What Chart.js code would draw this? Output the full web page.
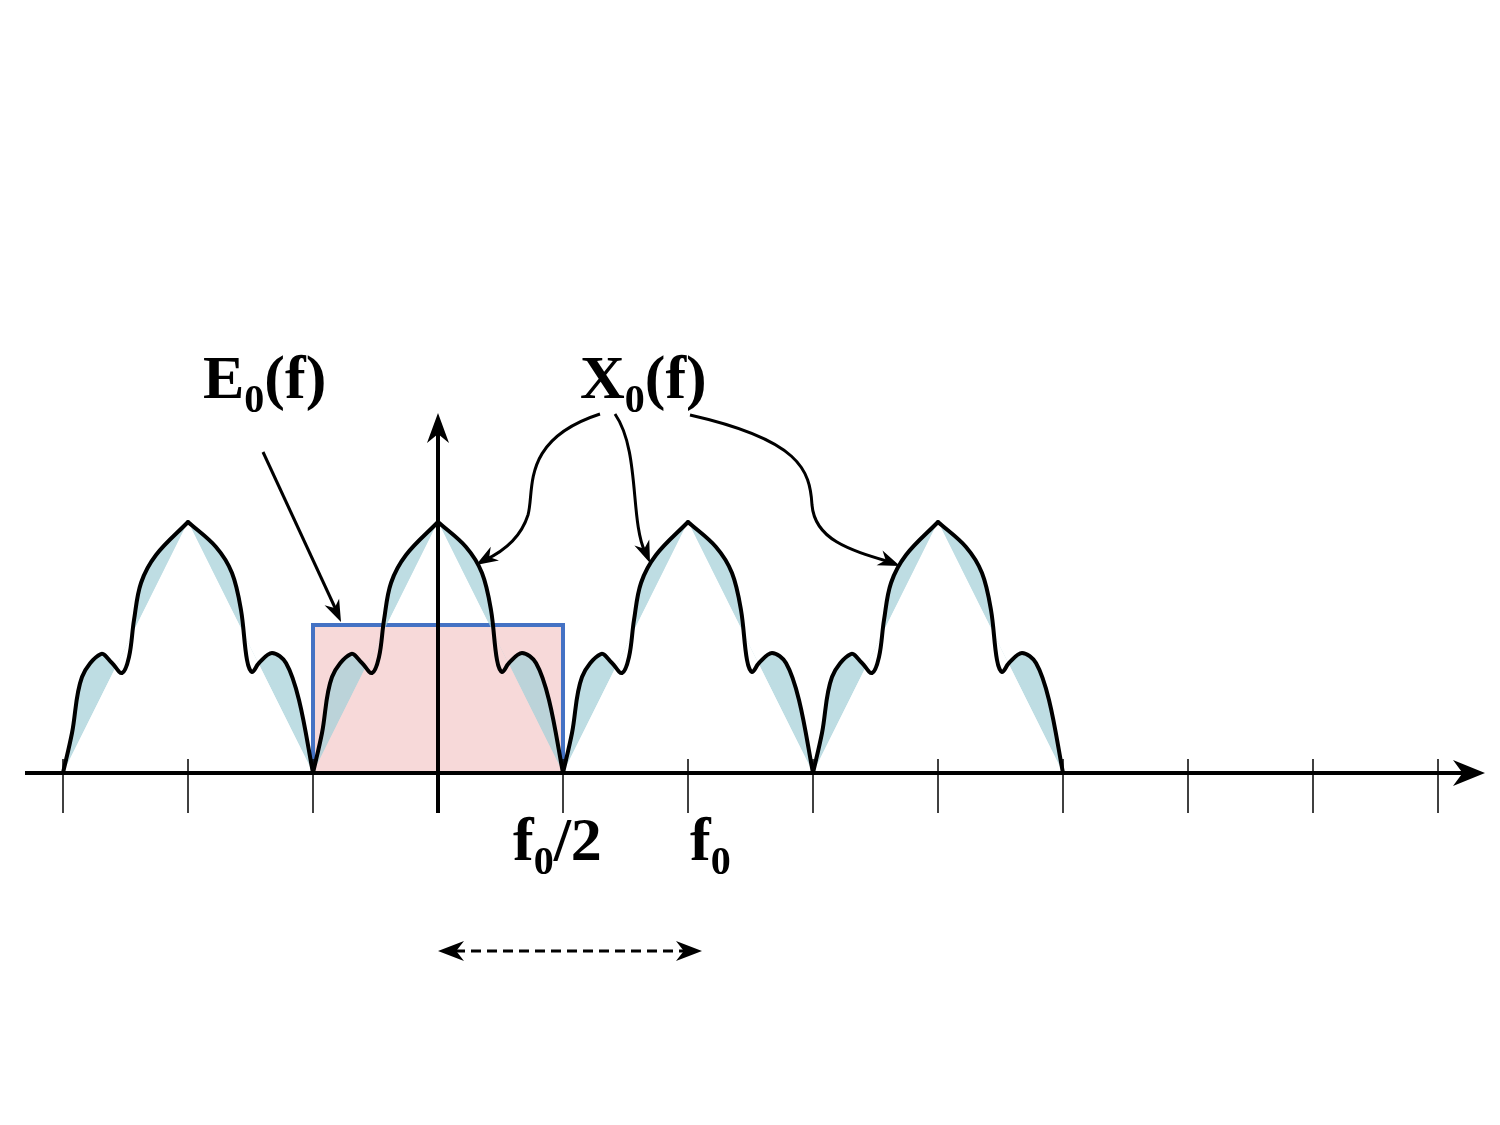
<!DOCTYPE html>
<html>
<head>
<meta charset="utf-8">
<script src="https://cdn.jsdelivr.net/npm/chart.js@4/dist/chart.umd.min.js"></script>
<style>
  html, body { margin: 0; padding: 0; background: #fff; }
  #wrap { width: 1500px; height: 1125px; }
</style>
</head>
<body>
<div id="wrap"><canvas id="c"></canvas></div>
<script>
// lobe centres (x in units of tick spacing, 0 = vertical axis)
const lobeCenters = [-2, 0, 2, 4];
// one lobe profile: offset from centre and height (left half, right half)
const leftDx  = [-1.0, -0.928, -0.848, -0.696, -0.608, -0.528, -0.472, -0.432, -0.376, -0.256, 0];
const leftH   = [0, 40, 96, 119, 110, 100, 116, 153, 190, 218, 251];
const rightDx = [0, 0.224, 0.352, 0.424, 0.472, 0.512, 0.568, 0.672, 0.784, 0.888, 1.0];
const rightH  = [251, 226, 200, 163, 113, 101, 110, 120, 110, 73, 0];
const peakH = 251;
// tick positions and labels
const tickX = [-3, -2, -1, 0, 1, 2, 3, 4, 5, 6, 7, 8];
const tickLabels = [{x: 1, text: 'f', sub: '0', rest: '/2'}, {x: 2, text: 'f', sub: '0', rest: ''}];
// pink window E0(f)
const windowX = [-1, 1];
const windowH = 148;

const datasets = [];
const shade = 'rgba(168,210,218,0.75)';
lobeCenters.forEach(c => {
  [[leftDx, leftH, -1], [rightDx, rightH, 1]].forEach(([dx, h, side]) => {
    datasets.push({
      data: side < 0 ? [{x: c - 1, y: 0}, {x: c, y: peakH}] : [{x: c, y: peakH}, {x: c + 1, y: 0}],
      borderWidth: 0, borderColor: 'transparent', pointRadius: 0, tension: 0, fill: false
    });
    datasets.push({
      data: dx.map((d, i) => ({x: c + d, y: h[i]})),
      borderColor: '#000', borderWidth: 4, pointRadius: 0, tension: 0.35,
      borderCapStyle: 'round', borderJoinStyle: 'miter',
      fill: {target: '-1', above: shade, below: 'rgba(0,0,0,0)'}
    });
  });
});
datasets.push({
  data: [{x: windowX[0], y: 0}, {x: windowX[0], y: windowH}, {x: windowX[1], y: windowH}, {x: windowX[1], y: 0}],
  borderColor: '#4472c4', borderWidth: 4, pointRadius: 0, tension: 0,
  fill: 'origin', backgroundColor: 'rgba(225,120,120,0.28)'
});

function P(chart, u, h) {
  return [chart.scales.x.getPixelForValue(u), chart.scales.y.getPixelForValue(h)];
}
const U = px => (px - 438) / 125;
const H = py => 773 - py;

function arrowHead(ctx, x, y, ang, len, w) {
  ctx.save();
  ctx.translate(x, y); ctx.rotate(ang);
  ctx.beginPath();
  ctx.moveTo(0, 0); ctx.lineTo(-len, -w); ctx.lineTo(-len * 0.7, 0); ctx.lineTo(-len, w);
  ctx.closePath(); ctx.fill();
  ctx.restore();
}

function label(ctx, x, y, main, sub, rest) {
  ctx.font = 'bold 62px "Liberation Serif", serif';
  ctx.textBaseline = 'alphabetic';
  ctx.fillText(main, x, y);
  let w = ctx.measureText(main).width;
  ctx.font = 'bold 40px "Liberation Serif", serif';
  ctx.fillText(sub, x + w, y + 14);
  w += ctx.measureText(sub).width;
  ctx.font = 'bold 62px "Liberation Serif", serif';
  ctx.fillText(rest, x + w, y);
}

const decor = {
  id: 'decor',
  afterDatasetsDraw(chart) {
    const ctx = chart.ctx;
    ctx.save();
    ctx.strokeStyle = '#000'; ctx.fillStyle = '#000';
    // horizontal axis
    let a = P(chart, U(25), 0), b = P(chart, U(1485), 0);
    ctx.lineWidth = 4;
    ctx.beginPath(); ctx.moveTo(a[0], a[1]); ctx.lineTo(b[0] - 10, b[1]); ctx.stroke();
    arrowHead(ctx, b[0], b[1], 0, 32, 13);
    // vertical axis
    a = P(chart, 0, 0); b = P(chart, 0, H(413));
    ctx.beginPath(); ctx.moveTo(a[0], a[1] + 40); ctx.lineTo(b[0], b[1] + 10); ctx.stroke();
    arrowHead(ctx, b[0], b[1], -Math.PI / 2, 30, 11);
    // ticks
    ctx.lineWidth = 1.5;
    tickX.forEach(t => {
      const p = P(chart, t, 0);
      ctx.beginPath(); ctx.moveTo(p[0], p[1] - 14); ctx.lineTo(p[0], p[1] + 40); ctx.stroke();
    });
    // tick labels
    ctx.textAlign = 'left';
    let p = P(chart, tickLabels[0].x, 0);
    label(ctx, p[0] - 50, 860, 'f', '0', '/2');
    p = P(chart, tickLabels[1].x, 0);
    label(ctx, p[0] + 2, 860, 'f', '0', '');
    label(ctx, 203, 398, 'E', '0', '(f)');
    label(ctx, 580, 398, 'X', '0', '(f)');
    // annotation arrows
    ctx.lineWidth = 3;
    ctx.beginPath(); ctx.moveTo(263, 452); ctx.lineTo(337, 612); ctx.stroke();
    arrowHead(ctx, 341, 622, Math.atan2(170, 78), 22, 8);
    ctx.beginPath(); ctx.moveTo(600, 414);
    ctx.bezierCurveTo(520, 440, 535, 490, 528, 515);
    ctx.bezierCurveTo(520, 540, 500, 553, 485, 560); ctx.stroke();
    arrowHead(ctx, 476, 565, Math.atan2(6, -10), 22, 8);
    ctx.beginPath(); ctx.moveTo(615, 414);
    ctx.bezierCurveTo(640, 450, 630, 520, 645, 552); ctx.stroke();
    arrowHead(ctx, 650, 563, Math.atan2(10, 4), 22, 8);
    ctx.beginPath(); ctx.moveTo(690, 415);
    ctx.bezierCurveTo(800, 440, 810, 470, 812, 505);
    ctx.bezierCurveTo(815, 540, 850, 550, 890, 562); ctx.stroke();
    arrowHead(ctx, 900, 566, Math.atan2(4, 10), 22, 8);
    // dashed double arrow
    ctx.lineWidth = 3; ctx.setLineDash([10, 6]);
    ctx.beginPath(); ctx.moveTo(455, 951); ctx.lineTo(685, 951); ctx.stroke();
    ctx.setLineDash([]);
    arrowHead(ctx, 438, 951, Math.PI, 26, 10);
    arrowHead(ctx, 702, 951, 0, 26, 10);
    ctx.restore();
  }
};

new Chart(document.getElementById('c'), {
  type: 'line',
  data: {datasets},
  options: {
    responsive: true, maintainAspectRatio: false, animation: false,
    layout: {padding: 0},
    plugins: {legend: {display: false}, tooltip: {enabled: false}},
    scales: {
      x: {type: 'linear', display: false, min: -438 / 125, max: (1500 - 438) / 125},
      y: {type: 'linear', display: false, min: 773 - 1125, max: 773}
    }
  },
  plugins: [decor]
});
</script>
</body>
</html>
